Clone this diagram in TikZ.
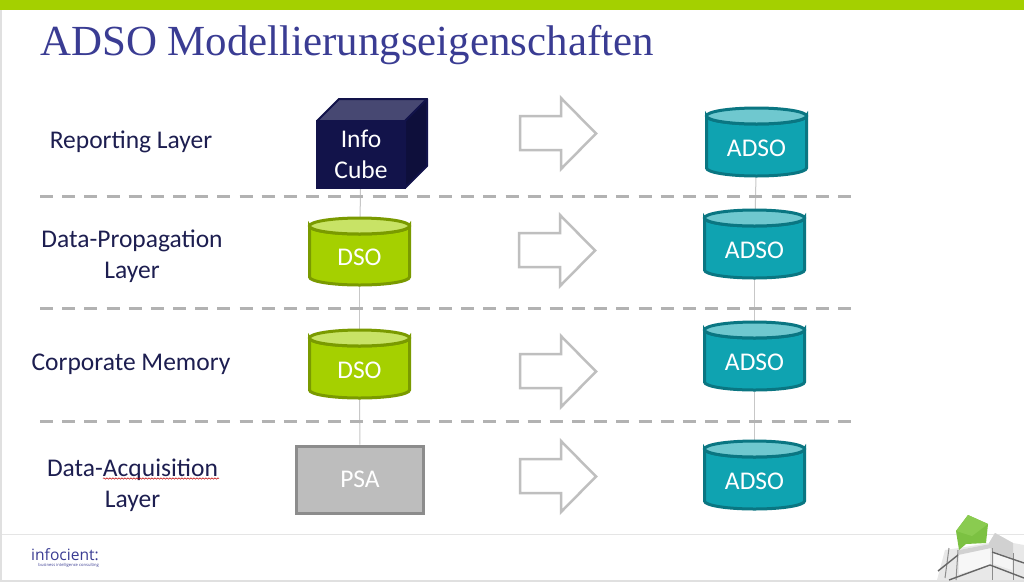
\documentclass[tikz,border=0pt]{standalone}
\usepackage{fontspec}
\setmainfont{Carlito}
\newfontfamily\titlefont{Liberation Serif}
\newfontfamily\logofont{Open Sans}
\usetikzlibrary{decorations.pathmorphing,backgrounds}
\definecolor{barg}{HTML}{A4D000}
\definecolor{titleblue}{HTML}{3A3C93}
\definecolor{labelnavy}{HTML}{1D1E50}
\definecolor{cubefront}{HTML}{12134A}
\definecolor{cubetop}{HTML}{474872}
\definecolor{cubeside}{HTML}{0E0F3B}
\definecolor{dsofill}{HTML}{A5D000}
\definecolor{dsotop}{HTML}{C8E366}
\definecolor{dsoline}{HTML}{7A9A00}
\definecolor{adsofill}{HTML}{0FA3B1}
\definecolor{adsotop}{HTML}{6FC8CF}
\definecolor{adsoline}{HTML}{0A7682}
\definecolor{psafill}{HTML}{BDBDBD}
\definecolor{psaline}{HTML}{8C8C8C}
\definecolor{leafa}{HTML}{7CC142}
\definecolor{leafb}{HTML}{8ACB50}
\tikzset{
  x=1pt,y=-1pt,
  lbl/.style={text=labelnavy,font=\fontsize{25.5}{31}\selectfont,align=center,inner sep=0},
  shapetext/.style={text=white,font=\fontsize{25.5}{31}\selectfont,align=center,inner sep=0},
  link/.style={draw=black!22,line width=1pt},
  sep/.style={draw=black!30,line width=3pt,dash pattern=on 13pt off 9.17pt},
  bigarrow/.style={draw=black!25,line width=2.5pt,fill=white,line join=miter},
  grid/.style={draw=black!60,line width=1.4pt},
  gridthin/.style={draw=black!45,line width=1pt},
}
% cx, top, bottom, halfwidth, node name, text, fill, topfill, line
\newcommand\tank[9]{%
  \path[fill=#7,draw=#9,line width=3pt]
    (#1-#4,#2+8) arc[start angle=180,end angle=360,x radius=#4,y radius=-8]
    -- (#1+#4,#3-8) arc[start angle=0,end angle=-180,x radius=#4,y radius=-8] -- cycle;
  \path[fill=#8,draw=#9,line width=3pt] (#1,#2+8) ellipse[x radius=#4,y radius=8];
  \node[shapetext,minimum width=2*#4,minimum height=#3-#2-16] (#5) at (#1,{(#2+#3)/2+6}) {#6};
}
\newcommand\flowarrow[3]{%
  \path[bigarrow] (#1,#2+18) -- (#1+41,#2+18) -- (#1+41,#2) -- (#1+76,#2+35.5)
    -- (#1+41,#2+71) -- (#1+41,#2+52) -- (#1,#2+52) -- cycle;
  \coordinate (#3) at (#1+38,#2+35.5);
}
\begin{document}
\begin{tikzpicture}
\useasboundingbox (0,0) rectangle (1024,582);
\begin{pgfonlayer}{background}
\fill[white] (0,0) rectangle (1024,582);
\end{pgfonlayer}
\fill[black!12] (0,0) rectangle (2,582);
\fill[black!12] (0,580) rectangle (1024,582);
\fill[barg] (0,0) rectangle (1024,9.5);
\draw[black!10,line width=1pt] (2,534.5) -- (1024,534.5);

\node[anchor=base west,inner sep=0,text=titleblue,font=\titlefont\fontsize{42.9}{44}\selectfont] (title) at (40,55) {ADSO Modellierungseigenschaften};

% separators
\coordinate (sa1) at (40,196); \coordinate (sa2) at (851,196);
\coordinate (sb1) at (40,308.5); \coordinate (sb2) at (851,308.5);
\coordinate (sc1) at (40,421); \coordinate (sc2) at (851,421);
\draw[sep] (sa1) -- (sa2);
\draw[sep] (sb1) -- (sb2);
\draw[sep] (sc1) -- (sc2);

% shapes
\tank{359.5}{218}{285}{50}{dsoa}{DSO}{dsofill}{dsotop}{dsoline}
\tank{359.5}{330}{398}{50}{dsob}{DSO}{dsofill}{dsotop}{dsoline}
\tank{756.5}{108}{176}{50}{adsoa}{ADSO}{adsofill}{adsotop}{adsoline}
\tank{754.5}{210}{278}{50}{adsob}{ADSO}{adsofill}{adsotop}{adsoline}
\tank{754.5}{322}{390}{50}{adsoc}{ADSO}{adsofill}{adsotop}{adsoline}
\tank{754.5}{441}{509}{50}{adsod}{ADSO}{adsofill}{adsotop}{adsoline}

\fill[cubetop,draw=cubefront,line width=2pt,line join=round] (317,121) -- (339,99) -- (427,99) -- (405,121) -- cycle;
\fill[cubeside,draw=cubefront,line width=2pt,line join=round] (405,121) -- (427,99) -- (427,166) -- (405,188) -- cycle;
\node[draw=cubefront,fill=cubefront,line width=2pt,shapetext,minimum width=88,minimum height=67] (cube) at (361,154.5) {Info\\Cube};
\node[draw=psaline,fill=psafill,line width=3pt,shapetext,minimum width=127,minimum height=67] (psa) at (360,479.5) {PSA};

% connectors, behind shapes
\begin{pgfonlayer}{background}
\draw[link] (cube) -- (dsoa);
\draw[link] (dsoa) -- (dsob);
\draw[link] (dsob) -- (psa);
\draw[link] (adsoa) -- (adsob);
\draw[link] (adsob) -- (adsoc);
\draw[link] (adsoc) -- (adsod);
\end{pgfonlayer}

% arrows
\flowarrow{520}{98}{fa}
\flowarrow{519}{215}{fb}
\flowarrow{520}{336}{fc}
\flowarrow{520}{441}{fd}

% labels
\node[lbl] (l1) at (131,142) {Reporting Layer};
\node[lbl] (l2) at (132,256) {Data-Propagation\\Layer};
\node[lbl] (l3) at (131,364) {Corporate Memory};
\node[lbl] (l4) at (132.5,485.5) {Data-Acquisition\\Layer};
\draw[red!75!black,line width=0.5pt,decorate,decoration={snake,amplitude=0.7pt,segment length=3pt}] (103,478.5) -- (219,478.5);

% logo
\node[anchor=base west,inner sep=0,text=titleblue,font=\logofont\fontsize{15.6}{16}\selectfont] (logo) at (31,560) {infocient:};
\node[anchor=base east,inner sep=0,text=titleblue,font=\logofont\fontsize{4.1}{5}\selectfont] (logosub) at (99,566) {business intelligence consulting};

% corner cubes
\fill[black!9] (937,580) -- (945,550) -- (959,548) -- (989,543) -- (995,533) -- (1013,543) -- (1024,545) -- (1024,580) -- cycle;
\fill[black!3] (959,550) -- (990,544) -- (990,565) -- (959,574) -- cycle;
\fill[black!18] (959,550) -- (990,544) -- (991,548) -- (958,555) -- cycle;
\fill[black!18] (995,533) -- (1013,543) -- (1013,558) -- (992,551) -- (989,543) -- cycle;
\fill[black!4] (994,553) -- (1012,559) -- (1012,570) -- (994,564) -- cycle;
\draw[gridthin] (949,548) -- (945,578);
\draw[gridthin] (958,550) -- (956,580);
\draw[gridthin] (992,548) -- (992,580);
\draw[gridthin] (1013,553) -- (1013,580);
\draw[grid] (938,571) -- (958,555);
\draw[grid] (949,580) -- (990,565);
\draw[grid] (992,552) -- (1024,563);
\draw[grid] (990,565) -- (1024,578);
\fill[leafa] (956,531) -- (968,515) -- (988,524) -- (986,543) -- (966,544) -- (959,550) -- cycle;
\fill[leafb] (956,531) -- (968,515) -- (988,524) -- (972,536) -- cycle;
\end{tikzpicture}
\end{document}
